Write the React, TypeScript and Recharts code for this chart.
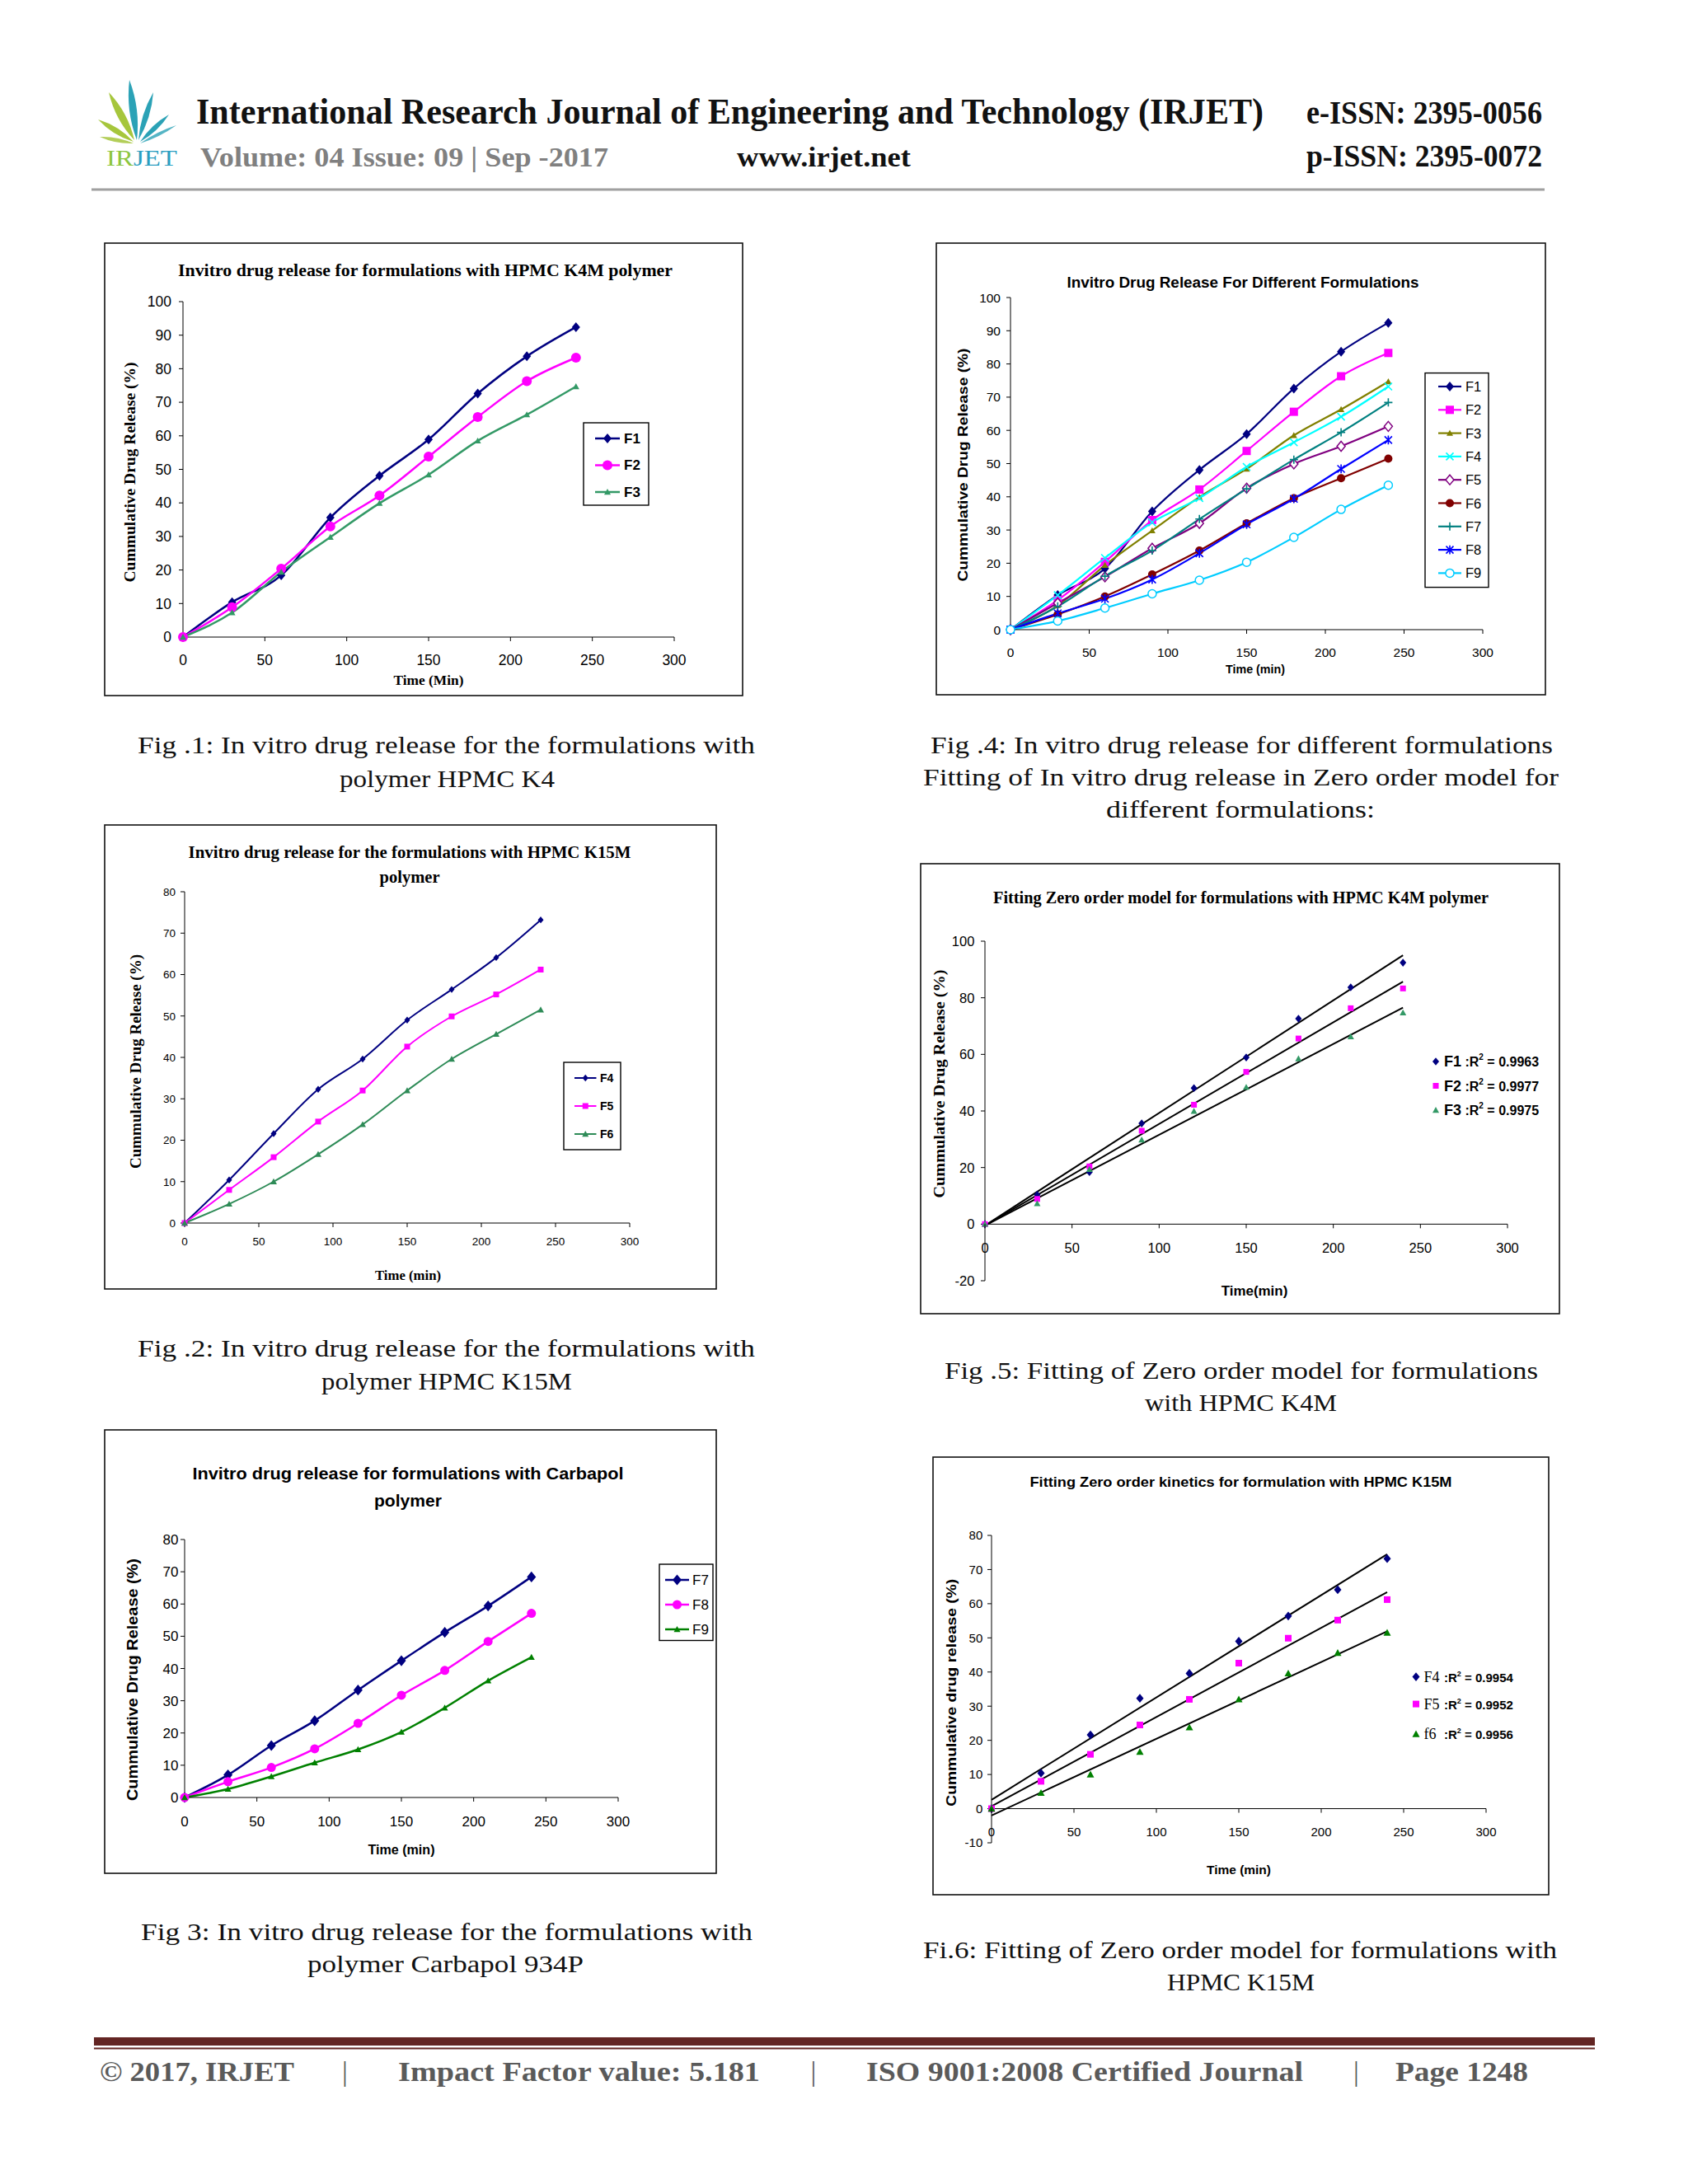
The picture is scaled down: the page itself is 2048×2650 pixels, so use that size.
import React from "react";
import {
  LineChart,
  Line,
  XAxis,
  YAxis,
  ComposedChart,
  Scatter,
  ReferenceLine,
} from "recharts";

const SANS = '"Liberation Sans", Arial, sans-serif';
const SERIF = '"Liberation Serif", "Times New Roman", serif';

// sampling times (min)
const times = [0, 30, 60, 90, 120, 150, 180, 210, 240];

// cumulative release (%) per formulation
const f1 = [0, 10.4, 18.4, 35.6, 48.1, 58.9, 72.6, 83.7, 92.4];
const f2 = [0, 8.9, 20.4, 33.0, 42.2, 53.8, 65.6, 76.3, 83.3];
const f3 = [0, 7.3, 19.4, 29.8, 39.9, 48.4, 58.5, 66.3, 74.7];
const f4 = [0, 10.4, 21.6, 32.3, 39.6, 49.0, 56.4, 64.1, 73.2];
const f5 = [0, 8.0, 15.9, 24.5, 32.0, 42.6, 49.9, 55.2, 61.2];
const f6 = [0, 4.6, 10.0, 16.6, 23.8, 32.0, 39.6, 45.6, 51.5];
const f7 = [0, 7.0, 16.1, 23.8, 33.3, 42.4, 51.2, 59.4, 68.4];
const f8 = [0, 4.9, 9.3, 15.1, 23.0, 31.7, 39.4, 48.4, 57.1];
const f9 = [0, 2.6, 6.5, 10.8, 14.9, 20.3, 27.8, 36.2, 43.5];

// zero order trend lines, read at t = 0 and t = 240
const fitEnds = [0, 240];
const fitF1 = [-0.5, 95.0];
const fitF2 = [-0.5, 85.7];
const fitF3 = [-0.5, 76.5];
const fitF4 = [2.6, 74.5];
const fitF5 = [0.7, 63.4];
const fitF6 = [-2.0, 51.9];

const r2K4M = ["0.9963", "0.9977", "0.9975"];
const r2K15M = ["0.9954", "0.9952", "0.9956"];

// axis ticks
const xTicks = [0, 50, 100, 150, 200, 250, 300];
const yTicks100 = [0, 10, 20, 30, 40, 50, 60, 70, 80, 90, 100];
const yTicks80 = [0, 10, 20, 30, 40, 50, 60, 70, 80];
const yTicksFitA = [-20, 0, 20, 40, 60, 80, 100];
const yTicksFitB = [-10, 0, 10, 20, 30, 40, 50, 60, 70, 80];

const rows = times.map((t, i) => ({
  t,
  f1: f1[i],
  f2: f2[i],
  f3: f3[i],
  f4: f4[i],
  f5: f5[i],
  f6: f6[i],
  f7: f7[i],
  f8: f8[i],
  f9: f9[i],
}));
const pts = (ys: number[]) => times.map((t, i) => ({ t, v: ys[i] }));
const fit = (ys: number[]) => fitEnds.map((t, i) => ({ t, v: ys[i] }));

const NAVY = "#000080";
const MAGENTA = "#FF00FF";

function Mark({ x, y, kind, color, s }: { x: number; y: number; kind: string; color: string; s: number }) {
  if (x == null || y == null) return null;
  const h = s / 2;
  if (kind === "diamond" || kind === "odiamond") {
    const p = `${x},${y - h * 1.2} ${x + h},${y} ${x},${y + h * 1.2} ${x - h},${y}`;
    return kind === "diamond" ? (
      <polygon points={p} fill={color} />
    ) : (
      <polygon points={p} fill="#fff" stroke={color} strokeWidth={1.5} />
    );
  }
  if (kind === "square") return <rect x={x - h} y={y - h} width={s} height={s} fill={color} />;
  if (kind === "triangle")
    return <polygon points={`${x},${y - h} ${x + h},${y + h * 0.8} ${x - h},${y + h * 0.8}`} fill={color} />;
  if (kind === "circle") return <circle cx={x} cy={y} r={h} fill={color} />;
  if (kind === "ocircle") return <circle cx={x} cy={y} r={h} fill="#fff" stroke={color} strokeWidth={1.5} />;
  if (kind === "x")
    return <path d={`M${x - h},${y - h}L${x + h},${y + h}M${x - h},${y + h}L${x + h},${y - h}`} stroke={color} strokeWidth={1.6} />;
  if (kind === "plus")
    return <path d={`M${x - h},${y}L${x + h},${y}M${x},${y - h}L${x},${y + h}`} stroke={color} strokeWidth={1.6} />;
  if (kind === "star")
    return (
      <path
        d={`M${x - h},${y - h}L${x + h},${y + h}M${x - h},${y + h}L${x + h},${y - h}M${x},${y - h * 1.2}L${x},${y + h * 1.2}`}
        stroke={color}
        strokeWidth={1.6}
      />
    );
  return null;
}

const dotOf = (kind: string, color: string, s: number) => (p: any) => (
  <g key={`m${p.index}`}>
    <Mark x={p.cx} y={p.cy} kind={kind} color={color} s={s} />
  </g>
);

function Frame({ left, top, w, h, chart, children }: any) {
  return (
    <div style={{ position: "absolute", left, top, width: w, height: h, background: "#fff" }}>
      {chart}
      <svg width={w} height={h} style={{ position: "absolute", left: 0, top: 0, pointerEvents: "none" }}>
        <rect x={1} y={1} width={w - 2} height={h - 2} fill="none" stroke="#111" strokeWidth={1.6} />
        {children}
      </svg>
    </div>
  );
}

function Label({ x, y, len, size, font, bold = true, rot = false, children }: any) {
  return (
    <text
      x={rot ? 0 : x}
      y={rot ? 0 : y}
      transform={rot ? `translate(${x},${y}) rotate(-90)` : undefined}
      textAnchor="middle"
      dominantBaseline="central"
      fontFamily={font}
      fontSize={size}
      fontWeight={bold ? "bold" : "normal"}
      textLength={len}
      lengthAdjust="spacingAndGlyphs"
      fill="#000"
    >
      {children}
    </text>
  );
}

type Entry = { name: string; color: string; kind: string; s: number };

function LegendBox({ x, y, w, h, entries, y0, step, lx1, lx2, tx, size, bold, sw }: any) {
  return (
    <g>
      <rect x={x} y={y} width={w} height={h} fill="#fff" stroke="#000" strokeWidth={1.4} />
      {entries.map((e: Entry, i: number) => {
        const yy = y0 + i * step;
        return (
          <g key={e.name}>
            <line x1={lx1} x2={lx2} y1={yy} y2={yy} stroke={e.color} strokeWidth={sw} />
            <Mark x={(lx1 + lx2) / 2} y={yy} kind={e.kind} color={e.color} s={e.s} />
            <text x={tx} y={yy} dominantBaseline="central" fontFamily={SANS} fontSize={size} fontWeight={bold ? "bold" : "normal"}>
              {e.name}
            </text>
          </g>
        );
      })}
    </g>
  );
}

const axisTick = (fs: number) => ({ fill: "#000", fontSize: fs, fontFamily: SANS });

// x tick drawn on the y = 0 line instead of the plot bottom
const zeroTick = (shift: number, fs: number, gap: number) => (p: any) => {
  const y0 = p.y - shift;
  return (
    <g>
      <line x1={p.x} x2={p.x} y1={y0} y2={y0 + 5} stroke="#000" />
      <text x={p.x} y={y0 + gap} textAnchor="middle" dominantBaseline="central" fontSize={fs} fontFamily={SANS} fill="#000">
        {p.payload.value}
      </text>
    </g>
  );
};

// ---------- Fig 1 ----------
const c1Series = [
  { key: "f1", name: "F1", color: NAVY, kind: "diamond", s: 10 },
  { key: "f2", name: "F2", color: MAGENTA, kind: "circle", s: 12 },
  { key: "f3", name: "F3", color: "#339966", kind: "triangle", s: 8 },
];

function Chart1() {
  const W = 776, H = 551;
  const chart = (
    <LineChart width={W} height={H} data={rows} margin={{ top: 72, right: 84, left: 0, bottom: 0 }}>
      <XAxis dataKey="t" type="number" domain={[0, 300]} ticks={xTicks} interval={0} height={72} tickSize={5} tickMargin={17} stroke="#000" tick={axisTick(17.5)} />
      <YAxis type="number" domain={[0, 100]} ticks={yTicks100} interval={0} width={96} tickSize={5} tickMargin={9} stroke="#000" tick={axisTick(17.5)} />
      {c1Series.map((s) => (
        <Line key={s.key} dataKey={s.key} type="monotone" stroke={s.color} strokeWidth={2.5} dot={dotOf(s.kind, s.color, s.s)} activeDot={false} isAnimationActive={false} />
      ))}
    </LineChart>
  );
  return (
    <Frame left={126} top={294} w={W} h={H} chart={chart}>
      <Label x={390} y={33.5} len={600} size={20} font={SERIF}>Invitro drug release for formulations with HPMC K4M polymer</Label>
      <Label x={32} y={279} len={267} size={18} font={SERIF} rot>Cummulative Drug Release (%)</Label>
      <Label x={394} y={531} len={85} size={17} font={SERIF}>Time (Min)</Label>
      <LegendBox x={582} y={219} w={79} h={100} entries={c1Series} y0={238} step={32.5} lx1={596} lx2={626} tx={631} size={17} bold sw={2.5} />
    </Frame>
  );
}

// ---------- Fig 4 ----------
const c4Series = [
  { key: "f1", name: "F1", color: NAVY, kind: "diamond", s: 10 },
  { key: "f2", name: "F2", color: MAGENTA, kind: "square", s: 10 },
  { key: "f3", name: "F3", color: "#808000", kind: "triangle", s: 8 },
  { key: "f4", name: "F4", color: "#00FFFF", kind: "x", s: 9 },
  { key: "f5", name: "F5", color: "#800080", kind: "odiamond", s: 10 },
  { key: "f6", name: "F6", color: "#800000", kind: "circle", s: 10 },
  { key: "f7", name: "F7", color: "#008080", kind: "plus", s: 10 },
  { key: "f8", name: "F8", color: "#0000FF", kind: "star", s: 9 },
  { key: "f9", name: "F9", color: "#00CCFF", kind: "ocircle", s: 10 },
];

function Chart4() {
  const W = 741, H = 550;
  const chart = (
    <LineChart width={W} height={H} data={rows} margin={{ top: 67, right: 77, left: 0, bottom: 0 }}>
      <XAxis dataKey="t" type="number" domain={[0, 300]} ticks={xTicks} interval={0} height={80} tickSize={5} tickMargin={16.5} stroke="#000" tick={axisTick(15.5)} />
      <YAxis type="number" domain={[0, 100]} ticks={yTicks100} interval={0} width={91} tickSize={5} tickMargin={7} stroke="#000" tick={axisTick(15.5)} />
      {c4Series.map((s) => (
        <Line key={s.key} dataKey={s.key} type="monotone" stroke={s.color} strokeWidth={2.2} dot={dotOf(s.kind, s.color, s.s)} activeDot={false} isAnimationActive={false} />
      ))}
    </LineChart>
  );
  return (
    <Frame left={1135} top={294} w={W} h={H} chart={chart}>
      <Label x={373} y={49.4} len={427} size={18} font={SANS}>Invitro Drug Release For Different Formulations</Label>
      <Label x={33.6} y={270} len={283} size={17} font={SANS} rot>Cummulative Drug Release (%)</Label>
      <Label x={388} y={518} len={72} size={14.5} font={SANS}>Time (min)</Label>
      <LegendBox x={594} y={158.6} w={77} h={260} entries={c4Series} y0={175} step={28.3} lx1={610} lx2={638} tx={643} size={16.5} sw={2.2} />
    </Frame>
  );
}

// ---------- Fig 2 ----------
const c2Series = [
  { key: "f4", name: "F4", color: NAVY, kind: "diamond", s: 7 },
  { key: "f5", name: "F5", color: MAGENTA, kind: "square", s: 7 },
  { key: "f6", name: "F6", color: "#2E8B57", kind: "triangle", s: 8 },
];

function Chart2() {
  const W = 744, H = 565;
  const chart = (
    <LineChart width={W} height={H} data={rows} margin={{ top: 82, right: 106, left: 0, bottom: 0 }}>
      <XAxis dataKey="t" type="number" domain={[0, 300]} ticks={xTicks} interval={0} height={81} tickSize={5} tickMargin={12.7} stroke="#000" tick={axisTick(13.5)} />
      <YAxis type="number" domain={[0, 80]} ticks={yTicks80} interval={0} width={98} tickSize={5} tickMargin={6} stroke="#000" tick={axisTick(13.5)} />
      {c2Series.map((s) => (
        <Line key={s.key} dataKey={s.key} type="monotone" stroke={s.color} strokeWidth={2} dot={dotOf(s.kind, s.color, s.s)} activeDot={false} isAnimationActive={false} />
      ))}
    </LineChart>
  );
  return (
    <Frame left={126} top={1000} w={W} h={H} chart={chart}>
      <Label x={371} y={33.5} len={537} size={20} font={SERIF}>Invitro drug release for the formulations with HPMC K15M</Label>
      <Label x={371} y={64} len={73} size={20} font={SERIF}>polymer</Label>
      <Label x={39} y={288} len={260} size={18} font={SERIF} rot>Cummulative Drug Release (%)</Label>
      <Label x={369} y={547} len={80} size={17} font={SERIF}>Time (min)</Label>
      <LegendBox x={558} y={289} w={69} h={106} entries={c2Series} y0={308} step={34} lx1={571} lx2={597.5} tx={602} size={14} bold sw={2} />
    </Frame>
  );
}

// ---------- Fig 3 ----------
const c3Series = [
  { key: "f7", name: "F7", color: NAVY, kind: "diamond", s: 11 },
  { key: "f8", name: "F8", color: MAGENTA, kind: "circle", s: 11 },
  { key: "f9", name: "F9", color: "#008000", kind: "triangle", s: 8 },
];

function Chart3() {
  const W = 744, H = 540;
  const chart = (
    <LineChart width={W} height={H} data={rows} margin={{ top: 134, right: 120, left: 0, bottom: 0 }}>
      <XAxis dataKey="t" type="number" domain={[0, 300]} ticks={xTicks} interval={0} height={93} tickSize={5} tickMargin={18} stroke="#000" tick={axisTick(17)} />
      <YAxis type="number" domain={[0, 80]} ticks={yTicks80} interval={0} width={98} tickSize={5} tickMargin={2.5} stroke="#000" tick={axisTick(17)} />
      {c3Series.map((s) => (
        <Line key={s.key} dataKey={s.key} type="monotone" stroke={s.color} strokeWidth={2.5} dot={dotOf(s.kind, s.color, s.s)} activeDot={false} isAnimationActive={false} />
      ))}
    </LineChart>
  );
  return (
    <Frame left={126} top={1734} w={W} h={H} chart={chart}>
      <Label x={369} y={54} len={523} size={20} font={SANS}>Invitro drug release for formulations with Carbapol</Label>
      <Label x={369} y={86.6} len={82} size={20} font={SANS}>polymer</Label>
      <Label x={35} y={304} len={294} size={18} font={SANS} rot>Cummulative Drug Release (%)</Label>
      <Label x={361} y={510.6} len={81} size={16} font={SANS}>Time (min)</Label>
      <LegendBox x={674} y={164} w={65} h={92.5} entries={c3Series} y0={183} step={30} lx1={681} lx2={710} tx={714} size={17} sw={2.5} />
    </Frame>
  );
}

// ---------- Fig 5 ----------
const c5Series = [
  { name: "F1", data: f1, fitv: fitF1, color: NAVY, kind: "diamond", s: 8 },
  { name: "F2", data: f2, fitv: fitF2, color: MAGENTA, kind: "square", s: 7 },
  { name: "F3", data: f3, fitv: fitF3, color: "#339966", kind: "triangle", s: 8 },
];

function Chart5() {
  const W = 777, H = 548, top = 95, xh = 41;
  const shift = ((H - xh - top) * 20) / 120;
  const chart = (
    <ComposedChart width={W} height={H} margin={{ top, right: 64, left: 0, bottom: 0 }}>
      <XAxis dataKey="t" type="number" domain={[0, 300]} ticks={xTicks} interval={0} height={xh} axisLine={false} tickLine={false} tickSize={0} tickMargin={0} tick={zeroTick(shift, 16.5, 29)} />
      <YAxis type="number" domain={[-20, 100]} ticks={yTicksFitA} interval={0} width={79} tickSize={5} tickMargin={7.6} stroke="#000" tick={axisTick(16.5)} />
      <ReferenceLine y={0} stroke="#000" strokeWidth={1} />
      {c5Series.map((s) => (
        <Line key={`fit${s.name}`} data={fit(s.fitv)} dataKey="v" type="linear" stroke="#000" strokeWidth={2} dot={false} activeDot={false} isAnimationActive={false} />
      ))}
      {c5Series.map((s) => (
        <Scatter key={`pt${s.name}`} data={pts(s.data)} dataKey="v" fill={s.color} isAnimationActive={false}
          shape={(p: any) => <Mark x={p.cx} y={p.cy} kind={s.kind} color={s.color} s={s.s} />} />
      ))}
    </ComposedChart>
  );
  return (
    <Frame left={1116} top={1047} w={W} h={H} chart={chart}>
      <Label x={389.5} y={42} len={601} size={20} font={SERIF}>Fitting Zero order model for formulations with HPMC K4M polymer</Label>
      <Label x={24} y={268} len={277} size={18} font={SERIF} rot>Cummulative Drug Release (%)</Label>
      <Label x={406} y={519.8} len={80.6} size={16} font={SANS}>Time(min)</Label>
      {c5Series.map((s, i) => {
        const yy = 241 + i * 29.5;
        return (
          <g key={s.name}>
            <Mark x={626} y={yy} kind={s.kind} color={s.color} s={s.s} />
            <text x={636} y={yy + 6} fontFamily={SANS} fontWeight="bold" fontSize={16} fill="#000">
              <tspan fontSize={18}>{s.name}</tspan>
              <tspan> :R</tspan>
              <tspan fontSize={10} dy={-8}>2</tspan>
              <tspan dy={8}> = {r2K4M[i]}</tspan>
            </text>
          </g>
        );
      })}
    </Frame>
  );
}

// ---------- Fig 6 ----------
const c6Series = [
  { name: "F4", data: f4, fitv: fitF4, color: NAVY, kind: "diamond", s: 9 },
  { name: "F5", data: f5, fitv: fitF5, color: MAGENTA, kind: "square", s: 8 },
  { name: "f6", data: f6, fitv: fitF6, color: "#008000", kind: "triangle", s: 9 },
];

function Chart6() {
  const W = 749, H = 533, top = 96, xh = 64;
  const shift = ((H - xh - top) * 10) / 90;
  const chart = (
    <ComposedChart width={W} height={H} margin={{ top, right: 77, left: 0, bottom: 0 }}>
      <XAxis dataKey="t" type="number" domain={[0, 300]} ticks={xTicks} interval={0} height={xh} axisLine={false} tickLine={false} tickSize={0} tickMargin={0} tick={zeroTick(shift, 15, 28)} />
      <YAxis type="number" domain={[-10, 80]} ticks={yTicksFitB} interval={0} width={72} tickSize={5} tickMargin={5.7} stroke="#000" tick={axisTick(15)} />
      <ReferenceLine y={0} stroke="#000" strokeWidth={1} />
      {c6Series.map((s) => (
        <Line key={`fit${s.name}`} data={fit(s.fitv)} dataKey="v" type="linear" stroke="#000" strokeWidth={2} dot={false} activeDot={false} isAnimationActive={false} />
      ))}
      {c6Series.map((s) => (
        <Scatter key={`pt${s.name}`} data={pts(s.data)} dataKey="v" fill={s.color} isAnimationActive={false}
          shape={(p: any) => <Mark x={p.cx} y={p.cy} kind={s.kind} color={s.color} s={s.s} />} />
      ))}
    </ComposedChart>
  );
  const rowY = [267.6, 300.6, 337.1];
  return (
    <Frame left={1131} top={1767} w={W} h={H} chart={chart}>
      <Label x={374.5} y={31} len={512} size={17} font={SANS}>Fitting Zero order kinetics for formulation with HPMC K15M</Label>
      <Label x={23} y={286.7} len={276} size={17} font={SANS} rot>Cummulative drug release (%)</Label>
      <Label x={372} y={501} len={78} size={15} font={SANS}>Time (min)</Label>
      {c6Series.map((s, i) => (
        <g key={s.name}>
          <Mark x={587} y={rowY[i]} kind={s.kind} color={s.color} s={s.s} />
          <text x={596.5} y={rowY[i] + 6} fontFamily={SERIF} fontSize={18} fill="#000">{s.name}</text>
          <text x={621} y={rowY[i] + 6} fontFamily={SANS} fontWeight="bold" fontSize={15} fill="#000">
            <tspan>:R</tspan>
            <tspan fontSize={9} dy={-7}>2</tspan>
            <tspan dy={7}> = {r2K15M[i]}</tspan>
          </text>
        </g>
      ))}
    </Frame>
  );
}

// ---------- page text ----------
function leaf(bx: number, by: number, tx: number, ty: number, w: number) {
  const mx = (bx + tx) / 2, my = (by + ty) / 2;
  const dx = tx - bx, dy = ty - by;
  const L = Math.hypot(dx, dy);
  const nx = (-dy / L) * w, ny = (dx / L) * w;
  return `M${bx},${by} Q${mx + nx},${my + ny} ${tx},${ty} Q${mx - nx},${my - ny} ${bx},${by}Z`;
}

const GREEN = "#A6C63C";
const TEAL = "#2BA2B6";

function Logo() {
  return (
    <g>
      <path d={leaf(163, 170, 132, 112, 9)} fill={GREEN} />
      <path d={leaf(162, 172, 119, 145, 7)} fill={GREEN} />
      <path d={leaf(162, 174, 121, 166, 5)} fill={GREEN} opacity={0.85} />
      <path d={leaf(166, 170, 157, 97, 9)} fill={TEAL} />
      <path d={leaf(168, 170, 186, 112, 7)} fill={TEAL} />
      <path d={leaf(170, 172, 205, 139, 6)} fill={TEAL} />
      <path d={leaf(170, 174, 214, 152, 4)} fill={TEAL} opacity={0.8} />
      <text x={129} y={201} fontFamily={SERIF} fontSize={27} textLength={86} lengthAdjust="spacingAndGlyphs">
        <tspan fill="#8CC63F">IR</tspan>
        <tspan fill="#2B9EC1">JET</tspan>
      </text>
    </g>
  );
}

function Line1({ x, y, len, size, children, anchor = "middle", fill = "#111", bold = false }: any) {
  return (
    <text x={x} y={y} textAnchor={anchor} dominantBaseline="central" fontFamily={SERIF} fontSize={size}
      fontWeight={bold ? "bold" : "normal"} textLength={len} lengthAdjust="spacingAndGlyphs" fill={fill}>
      {children}
    </text>
  );
}

function PageText() {
  const FG = "#5a5a5a";
  return (
    <svg width={2048} height={2650} style={{ position: "absolute", left: 0, top: 0 }}>
      <Logo />
      <text x={238} y={150} fontFamily={SERIF} fontWeight="bold" fontSize={44} textLength={1295} lengthAdjust="spacingAndGlyphs" fill="#111">
        International Research Journal of Engineering and Technology (IRJET)
      </text>
      <text x={1585} y={150} fontFamily={SERIF} fontWeight="bold" fontSize={40} textLength={286} lengthAdjust="spacingAndGlyphs" fill="#111">
        e-ISSN: 2395-0056
      </text>
      <text x={243} y={202} fontFamily={SERIF} fontWeight="bold" fontSize={34} textLength={495} lengthAdjust="spacingAndGlyphs" fill="#808080">
        Volume: 04 Issue: 09 | Sep -2017
      </text>
      <text x={894} y={202} fontFamily={SERIF} fontWeight="bold" fontSize={34} textLength={211} lengthAdjust="spacingAndGlyphs" fill="#111">
        www.irjet.net
      </text>
      <text x={1585} y={202} fontFamily={SERIF} fontWeight="bold" fontSize={38} textLength={286} lengthAdjust="spacingAndGlyphs" fill="#111">
        p-ISSN: 2395-0072
      </text>
      <line x1={111} x2={1874} y1={230} y2={230} stroke="#a0a0a0" strokeWidth={3} />

      <Line1 x={541.5} y={904} len={749} size={29}>Fig .1: In vitro drug release for the formulations with</Line1>
      <Line1 x={542.5} y={945} len={261} size={29}>polymer HPMC K4</Line1>

      <Line1 x={1506.5} y={904} len={755} size={29}>Fig .4: In vitro drug release for different formulations</Line1>
      <Line1 x={1505.5} y={943} len={771} size={29}>Fitting of In vitro drug release in Zero order model for</Line1>
      <Line1 x={1505} y={982} len={326} size={29}>different formulations:</Line1>

      <Line1 x={541.5} y={1636} len={749} size={29}>Fig .2: In vitro drug release for the formulations with</Line1>
      <Line1 x={542} y={1676} len={304} size={29}>polymer HPMC K15M</Line1>

      <Line1 x={1506} y={1663} len={720} size={29}>Fig .5: Fitting of Zero order model for formulations</Line1>
      <Line1 x={1505.5} y={1702} len={233} size={29}>with HPMC K4M</Line1>

      <Line1 x={542} y={2344} len={742} size={29}>Fig 3: In vitro drug release for the formulations with</Line1>
      <Line1 x={540.5} y={2383} len={335} size={29}>polymer Carbapol 934P</Line1>

      <Line1 x={1504.5} y={2366} len={769} size={29}>Fi.6: Fitting of Zero order model for formulations with</Line1>
      <Line1 x={1505.5} y={2405} len={179} size={29}>HPMC K15M</Line1>

      <rect x={114} y={2472} width={1821} height={10} fill="#632523" />
      <rect x={114} y={2484.5} width={1821} height={2} fill="#632523" />
      <Line1 x={121} y={2513} len={236} size={34} anchor="start" fill={FG} bold>© 2017, IRJET</Line1>
      <Line1 x={418.5} y={2513} size={34} fill={FG}>|</Line1>
      <Line1 x={483} y={2513} len={439} size={34} anchor="start" fill={FG} bold>Impact Factor value: 5.181</Line1>
      <Line1 x={987} y={2513} size={34} fill={FG}>|</Line1>
      <Line1 x={1051} y={2513} len={530} size={34} anchor="start" fill={FG} bold>ISO 9001:2008 Certified Journal</Line1>
      <Line1 x={1645.5} y={2513} size={34} fill={FG}>|</Line1>
      <Line1 x={1693} y={2513} len={161} size={34} anchor="start" fill={FG} bold>Page 1248</Line1>
    </svg>
  );
}

export default function App() {
  return (
    <div style={{ position: "absolute", left: 0, top: 0, width: 2048, height: 2650, background: "#fff", overflow: "hidden" }}>
      <PageText />
      <Chart1 />
      <Chart4 />
      <Chart2 />
      <Chart5 />
      <Chart3 />
      <Chart6 />
    </div>
  );
}
